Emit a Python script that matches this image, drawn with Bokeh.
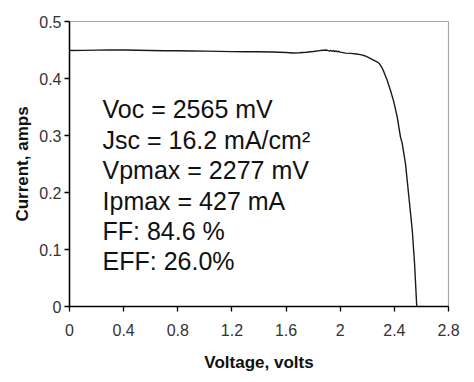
from bokeh.plotting import figure
from bokeh.models import ColumnDataSource, FixedTicker
from bokeh.core.properties import value
from bokeh.embed import file_html
from bokeh.resources import INLINE

# I-V curve
voltage = [0.0, 0.1, 0.2, 0.3, 0.4, 0.5, 0.6, 0.7, 0.8, 0.9, 1.0, 1.1, 1.2, 1.3,
           1.4, 1.5, 1.6, 1.65, 1.7, 1.75, 1.8, 1.85, 1.88, 1.9, 1.91, 1.92, 1.93,
           1.94, 1.95, 1.96, 1.97, 1.98, 1.99, 2.0, 2.04, 2.08, 2.12, 2.15, 2.18,
           2.2, 2.225, 2.25, 2.275, 2.29, 2.305, 2.322, 2.347, 2.371, 2.396, 2.421,
           2.445, 2.458, 2.482, 2.507, 2.532, 2.549, 2.564, 2.566]
current = [0.4492, 0.4494, 0.4497, 0.4499, 0.4499, 0.4496, 0.4492, 0.4488, 0.4486,
           0.4483, 0.4480, 0.4476, 0.4472, 0.4470, 0.4470, 0.4465, 0.4455, 0.4447,
           0.4452, 0.4460, 0.4474, 0.4490, 0.4496, 0.4499, 0.4490, 0.4482, 0.4494,
           0.4478, 0.4490, 0.4472, 0.4486, 0.4468, 0.4478, 0.4462, 0.4445, 0.4440,
           0.4430, 0.4418, 0.4400, 0.4380, 0.4350, 0.4320, 0.4288, 0.4258, 0.4205,
           0.4120, 0.3969, 0.3794, 0.3590, 0.3327, 0.2977, 0.2862, 0.2512, 0.1929,
           0.1346, 0.0764, 0.0065, 0.0]

x_ticks = [0, 0.4, 0.8, 1.2, 1.6, 2.0, 2.4, 2.8]
x_tick_labels = ["0", "0.4", "0.8", "1.2", "1.6", "2", "2.4", "2.8"]
y_ticks = [0, 0.1, 0.2, 0.3, 0.4, 0.5]
y_tick_labels = ["0", "0.1", "0.2", "0.3", "0.4", "0.5"]

info_lines = ["Voc = 2565 mV", "Jsc = 16.2 mA/cm\u00b2", "Vpmax = 2277 mV",
              "Ipmax = 427 mA", "FF: 84.6 %", "EFF: 26.0%"]
info_x = [0.244] * 6
info_y = [0.3458, 0.2925, 0.2392, 0.1858, 0.1325, 0.0794]

p = figure(width=466, height=374, output_backend="svg", toolbar_location=None,
           x_range=(0, 2.8), y_range=(0, 0.5),
           min_border_left=69, min_border_right=18, min_border_top=21,
           min_border_bottom=67)
p.xgrid.visible = False
p.ygrid.visible = False
p.outline_line_color = "#a8a8a8"
p.outline_line_width = 1.2
p.background_fill_color = "white"
p.border_fill_color = "white"

p.line(voltage, current, line_color="#1a1a1a", line_width=1.4)

src = ColumnDataSource(dict(x=info_x, y=info_y, t=info_lines))
p.text(x="x", y="y", text="t", source=src, text_font=value("Liberation Sans"),
       text_font_size="25px", text_color="#111111", text_baseline="alphabetic",
       text_align="left")

for ax in (p.xaxis[0], p.yaxis[0]):
    ax.axis_line_color = "black"
    ax.axis_line_width = 1.5
    ax.major_tick_line_color = "black"
    ax.major_tick_line_width = 1.3
    ax.major_tick_out = 5
    ax.major_tick_in = 0
    ax.minor_tick_line_color = None
    ax.major_label_text_font = "Liberation Sans"
    ax.major_label_text_font_size = "16px"
    ax.major_label_text_color = "#333333"
    ax.axis_label_text_font = "Liberation Sans"
    ax.axis_label_text_font_style = "bold"
    ax.axis_label_text_font_size = "17px"
    ax.axis_label_text_color = "#111111"

p.xaxis.ticker = FixedTicker(ticks=x_ticks)
p.xaxis.major_label_overrides = {t: l for t, l in zip(x_ticks, x_tick_labels)}
p.yaxis.ticker = FixedTicker(ticks=y_ticks)
p.yaxis.major_label_overrides = {t: l for t, l in zip(y_ticks, y_tick_labels)}
p.xaxis.axis_label = "Voltage, volts"
p.yaxis.axis_label = "Current, amps"
p.xaxis.major_label_standoff = 12
p.yaxis.major_label_standoff = 3
p.xaxis.axis_label_standoff = 14
p.yaxis.axis_label_standoff = 4

open("out.html", "w").write(file_html(p, INLINE))
